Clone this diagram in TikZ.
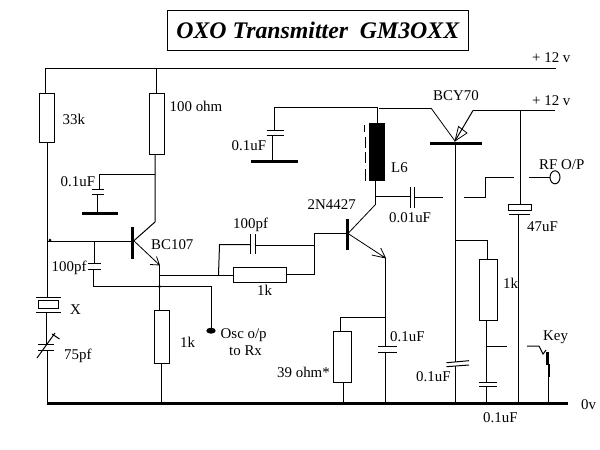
\documentclass[tikz,border=0pt]{standalone}
\usepackage{fontspec}
\setmainfont{Liberation Serif}
\tikzset{
  wire/.style={draw=black,line width=1pt},
  thin wire/.style={draw=black,line width=0.8pt},
  bar/.style={draw=black,line width=3pt},
  res/.style={draw=black,line width=1pt,fill=white,inner sep=0pt,outer sep=0pt,minimum width=#1},
  lab/.style={inner sep=0pt,anchor=base west,font=\fontsize{14.9}{16}\selectfont},
  title/.style={draw=black,line width=1pt,inner sep=0pt,minimum width=301pt,minimum height=40pt,font=\fontsize{23.8}{26}\selectfont\bfseries\itshape}
}
\begin{document}
\begin{tikzpicture}[x=1pt,y=-1pt]
\useasboundingbox (0,0) rectangle (600,450);
\fill[white] (0,0) rectangle (600,450);
% title
\node[title] (ttl) at (317.8,30) {OXO Transmitter\ \ GM3OXX};
% rails
\coordinate (railL) at (45,68); \coordinate (railR) at (556,68);
\draw[wire] (railL) -- (railR);
\coordinate (gndL) at (47,403.5); \coordinate (gndR) at (568,403.5);
\draw[bar] (gndL) -- (gndR);
% resistors
\node[res=15pt,minimum height=49pt] (r33) at (47,117.5) {};
\node[res=15.5pt,minimum height=61pt] (r100) at (156.8,123.5) {};
\node[res=15pt,minimum height=53pt] (r1a) at (162,336.5) {};
\node[res=52.7pt,minimum height=15pt] (r1b) at (260.3,274.5) {};
\node[res=18pt,minimum height=50.5pt] (r39) at (342.5,357.2) {};
\node[res=18pt,minimum height=61pt] (r1c) at (488.5,289.5) {};
% 33k and crystal, varicap
\draw[wire] (railL) -- (45,93);
\draw[wire] (47.5,142) -- (47.5,297);
\draw[wire] (36,297) -- (61,297) (36,312) -- (61,312);
\draw[wire] (38.5,300.5) rectangle (58,308);
\draw[wire] (46.5,312) -- (46.5,344);
\draw[wire] (38,344.5) -- (54,344.5) (38,350.5) -- (54,350.5);
\draw[wire] (47.5,350.5) -- (47.5,403);
\draw[wire] (37,358) -- (55,333) (52,334) -- (59.5,339);
% 100 ohm, BC107
\draw[wire] (156.5,68) -- (156.5,93);
\draw[wire] (155,154) -- (155,222) -- (133,241.5);
\draw[wire] (47.5,241.5) -- (132,241.5);
\fill (50,240.2) circle (1.5);
\draw[bar] (132.5,227) -- (132.5,259);
\draw[wire] (155,174.3) -- (99.5,174.3) -- (99.5,189);
\draw[wire] (92,189.5) -- (104,189.5) (92,194.5) -- (104,194.5);
\draw[wire] (97.5,194.5) -- (97.5,213);
\draw[bar] (82,213) -- (118,213);
\draw[thin wire] (133,240) -- (159.5,265) (150,264.5) -- (159.5,265) -- (156.5,256.5);
% emitter junction
\draw[wire] (159.5,265) -- (159.5,286.5);
\draw[wire] (159.5,275) -- (234,275);
\fill (159.5,286.5) circle (1.6);
\draw[wire] (93.5,286.5) -- (211,286.5) -- (211,328);
\fill (211,330.7) ellipse (4.7 and 3);
\draw[wire] (93.5,286.5) -- (93.5,269);
\draw[wire] (88,263.5) -- (100.5,263.5) (88,269) -- (100.5,269);
\draw[wire] (94.5,241.5) -- (94.5,263.5);
\draw[wire] (159.5,286.5) -- (159.5,310);
\draw[wire] (161.5,363) -- (161.5,403);
% feedback
\draw[wire] (218.5,275) -- (219.5,244.7) -- (250.5,244.7);
\draw[wire] (250.5,234) -- (250.5,254) (255,234) -- (255,254);
\draw[wire] (255,245) -- (314.5,245);
\draw[wire] (286.6,274) -- (314.5,274) -- (314.5,233.5) -- (347,233.5);
% 2N4427
\draw[bar] (347.7,219) -- (347.7,249.5);
\draw[thin wire] (348,233.5) -- (375,205);
\draw[wire] (375,205) -- (375,180);
\draw[thin wire] (348,233.5) -- (385.5,258) (371.7,255) -- (385.5,258) -- (380.7,248);
\draw[wire] (385.5,258) -- (385.5,346.5);
\draw[wire] (378,346.5) -- (397,346.5) (378,352) -- (397,352);
\draw[wire] (385.5,352) -- (385.5,403);
\draw[wire] (385.5,317.7) -- (340.5,317.7) -- (340.5,332);
\draw[wire] (343.5,382.5) -- (343.5,403);
% L6
\node[draw=black,fill=black,inner sep=0pt,minimum width=15pt,minimum height=57pt] (l6) at (376.5,151.5) {};
\draw[wire] (364.7,125) -- (364.7,132) (365,137) -- (365,148) (365.3,152) -- (365.3,163) (365.5,169) -- (365.5,181);
\draw[wire] (377.5,123) -- (377.5,107.7) -- (274,107.7) -- (274,130.5);
\draw[wire] (266.5,130.5) -- (284,130.5) (266.5,135.3) -- (284,135.3);
\draw[wire] (272.5,135.3) -- (272.5,161);
\draw[bar] (251,161) -- (298,161);
% 0.01uF and output
\draw[wire] (375,196.7) -- (410,196.7);
\draw[wire] (410,187) -- (410,208) (414,187) -- (414,208);
\draw[wire] (414,197) -- (443,197);
\draw[wire] (464,197) -- (485.5,197) -- (485.5,177.3) -- (514,177.3);
\draw[wire] (529,177.3) -- (550,177.3);
\draw[wire] (555,177.3) ellipse (5 and 6.5);
% BCY70
\draw[wire] (379,108) -- (431,108);
\draw[thin wire] (431,108) -- (455,141);
\draw[wire] (473,110.5) -- (455,141);
\draw[thin wire] (455,141) -- (458.5,126.5) -- (467,133) -- cycle;
\draw[bar] (430,143) -- (482,143);
\draw[wire] (473,110.5) -- (555,110.5);
\draw[wire] (520.5,110.5) -- (520.5,204.5);
\draw[wire] (508.5,204.5) rectangle (531.5,210);
\draw[line width=1.4pt] (509,214.3) -- (530,214.3);
\draw[wire] (518.3,214.3) -- (518.3,403);
\draw[wire] (455.5,143) -- (455.5,361.5);
\draw[wire] (446.5,362.7) -- (469,360.7) (446.5,366.7) -- (469,365);
\draw[wire] (455.5,366) -- (455.5,403);
\draw[wire] (455.5,240.5) -- (487.5,240.5) -- (487.5,259);
\draw[wire] (486.7,320) -- (486.7,382);
\draw[wire] (479,382) -- (497,382) (479,386.7) -- (497,386.7);
\draw[wire] (486.7,386.7) -- (486.7,403);
\draw[wire] (486.7,346) -- (507,346);
\draw[wire] (527,346) -- (539,346) -- (543,354) -- (546,350);
\draw[line width=2.6pt] (547.3,352) -- (547.3,365) (548.8,364) -- (548.8,377);
\draw[wire] (548.5,377) -- (548.5,403);
% labels
\node[lab] (tA) at (62.5,124) {33k};
\node[lab] (tB) at (169.5,111) {100 ohm};
\node[lab] (tC) at (60.5,186) {0.1uF};
\node[lab] (tD) at (151,249) {BC107};
\node[lab] (tE) at (51.5,271) {100pf};
\node[lab] (tF) at (70,314) {X};
\node[lab] (tG) at (64,359) {75pf};
\node[lab] (tH) at (180,347) {1k};
\node[lab] (tI) at (220.5,338) {Osc o/p};
\node[lab] (tJ) at (229,355) {to Rx};
\node[lab] (tK) at (257,295) {1k};
\node[lab] (tL) at (233,228) {100pf};
\node[lab] (tM) at (307.5,209) {2N4427};
\node[lab] (tN) at (231.5,150) {0.1uF};
\node[lab] (tO) at (391,172) {L6};
\node[lab] (tP) at (389,222) {0.01uF};
\node[lab] (tQ) at (433,100) {BCY70};
\node[lab] (tR) at (532,62) {+ 12 v};
\node[lab] (tS) at (532,105) {+ 12 v};
\node[lab] (tT) at (539,169) {RF O/P};
\node[lab] (tU) at (527,231) {47uF};
\node[lab] (tV) at (503,288) {1k};
\node[lab] (tW) at (543,340) {Key};
\node[lab] (tX) at (416,381) {0.1uF};
\node[lab] (tY) at (483,422) {0.1uF};
\node[lab] (tZ) at (581,409) {0v};
\node[lab] (ta) at (390,341) {0.1uF};
\node[lab] (tb) at (277,377) {39 ohm*};
\end{tikzpicture}
\end{document}
